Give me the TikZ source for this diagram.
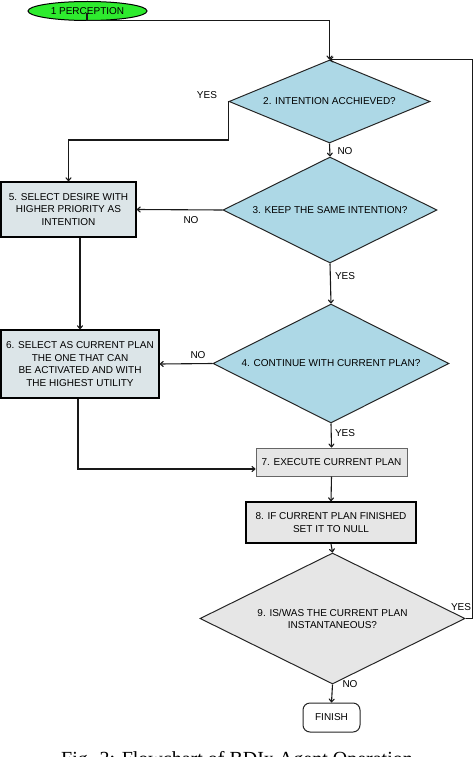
\documentclass[tikz,border=0pt]{standalone}
\usepackage{fontspec}
\setmainfont{Liberation Sans}
\newfontfamily\capfont{Liberation Serif}
\usetikzlibrary{shapes.geometric,arrows.meta,calc}
\definecolor{pgreen}{HTML}{2EEB2E}
\definecolor{dblue}{HTML}{ADD8E6}
\definecolor{bblue}{HTML}{DCE5E8}
\definecolor{lgray}{HTML}{E6E6E6}
\tikzset{
  dia/.style={diamond, draw=black!85, line width=1pt, inner sep=0pt, align=center},
  bluedia/.style={dia, fill=dblue},
  graydia/.style={dia, fill=lgray},
  bluebox/.style={rectangle, draw=black, line width=1.4pt, fill=bblue, inner sep=0pt, align=center},
  graybox/.style={rectangle, draw=black, line width=1.4pt, fill=lgray, inner sep=0pt, align=center},
  arr/.style={draw=black!90, line width=1.1pt, -{To[length=4pt,width=6pt]}},
  lbl/.style={font=\fontsize{10}{11}\selectfont, inner sep=0pt},
}
\begin{document}
\begin{tikzpicture}[x=1pt,y=-1pt,font=\fontsize{10}{12.5}\selectfont]
\useasboundingbox (0,0) rectangle (474,757);
\clip (0,0) rectangle (474,757);
% nodes
\node[ellipse, draw=black, line width=1pt, fill=pgreen, minimum width=119pt, minimum height=19pt, inner sep=0pt] (perc) at (87.5,11) {1 PERCEPTION};
\node[bluedia, minimum width=201pt, minimum height=83pt] (d2) at (329.5,101.5) {\makebox[0pt]{2. INTENTION ACCHIEVED?}};
\node[bluedia, minimum width=214pt, minimum height=106pt] (d3) at (330,210) {\makebox[0pt]{3. KEEP THE SAME INTENTION?}};
\node[bluedia, minimum width=236pt, minimum height=119pt] (d4) at (331,363.5) {\makebox[0pt]{4. CONTINUE WITH CURRENT PLAN?}};
\node[bluebox, minimum width=135pt, minimum height=55pt] (b5) at (68.5,209.5) {5. SELECT DESIRE WITH\\HIGHER PRIORITY AS\\INTENTION};
\node[bluebox, minimum width=158pt, minimum height=68pt] (b6) at (80,364) {6. SELECT AS CURRENT PLAN\\THE ONE THAT CAN\\BE ACTIVATED AND WITH\\THE HIGHEST UTILITY};
\node[graybox, draw=black!60, line width=1pt, minimum width=151pt, minimum height=28pt] (b7) at (331.5,462) {7. EXECUTE CURRENT PLAN};
\node[graybox, minimum width=170pt, minimum height=41pt] (b8) at (331,522.5) {8. IF CURRENT PLAN FINISHED\\SET IT TO NULL};
\node[graydia, minimum width=265pt, minimum height=131pt] (d9) at (332.5,618.5) {\makebox[0pt]{\shortstack{9. IS/WAS THE CURRENT PLAN\\[2pt]INSTANTANEOUS?}}};
\node[rectangle, rounded corners=7pt, draw=black!85, line width=1pt, fill=white, minimum width=57pt, minimum height=29pt, inner sep=0pt] (fin) at (331.5,717.5) {FINISH};
% connectors
\draw[arr] ($(perc.center)+(-0.5,2)$) -- ++(0,7.5) -| (d2.north);
\draw[arr] (d9.east) -- ++(7,0) |- (d2.north);
\draw[arr] (d2.west) -- ++(0,38.5) -| (b5.north);
\draw[arr] (d2.south) -- (d3.north);
\draw[arr] (d3.west) -- (b5.east);
\draw[arr] (d3.south) -- (d4.north);
\draw[arr] (b6.north |- b5.south) -- (b6.north);
\draw[arr] (d4.west) -- (b6.east);
\draw[arr] (d4.south) -- (b7.north);
\draw[arr] ($(b6.south)+(-2,0)$) |- ($(b7.west)+(0,7)$);
\draw[arr] (b7.south) -- (b8.north);
\draw[arr] (b8.south) -- (d9.north);
\draw[arr] (d9.south) -- (fin.north);
% labels
\node[lbl] (l1) at (207,95) {YES};
\node[lbl] (l2) at (345,151) {NO};
\node[lbl] (l3) at (191,220) {NO};
\node[lbl] (l4) at (345,276) {YES};
\node[lbl] (l5) at (198,355) {NO};
\node[lbl] (l6) at (345,433) {YES};
\node[lbl] (l7) at (461,607) {YES};
\node[lbl] (l8) at (350,684) {NO};
% caption (cut off at the bottom, as in the reference)
\node[anchor=base, inner sep=0pt, font=\capfont\fontsize{20}{22}\selectfont] (cap) at (237,765) {Fig. 3: Flowchart of BDIx Agent Operation};
\end{tikzpicture}
\end{document}
